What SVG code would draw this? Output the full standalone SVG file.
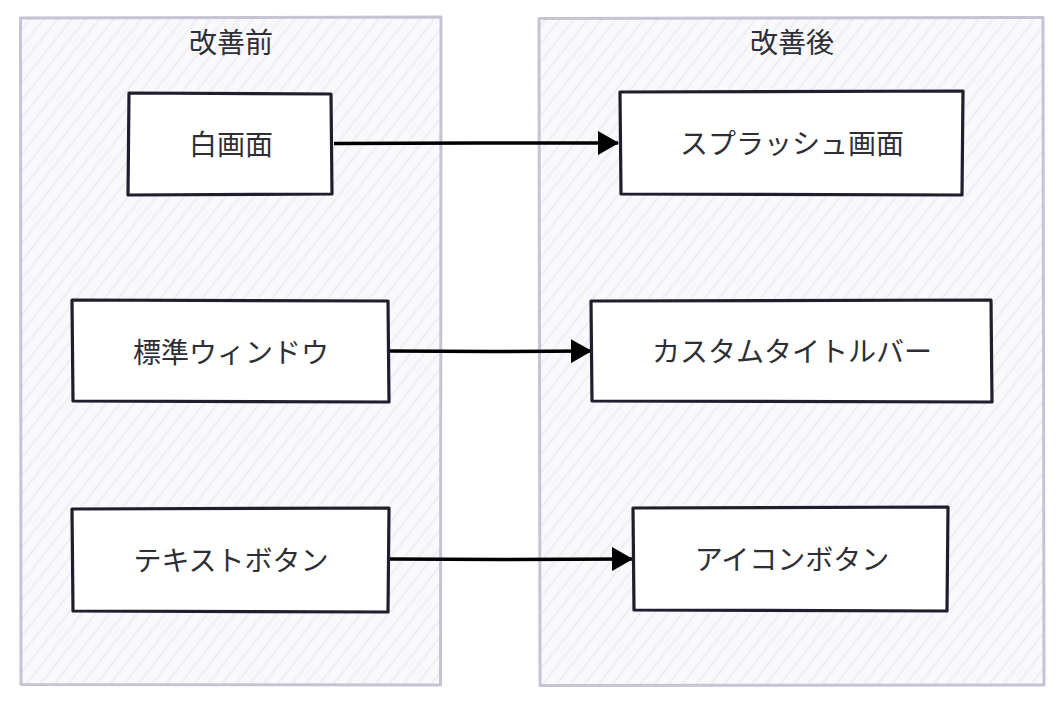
<svg xmlns="http://www.w3.org/2000/svg" width="1063" height="704" viewBox="0 0 1063 704">
<defs>
<pattern id="hatch" width="11" height="11" patternUnits="userSpaceOnUse" patternTransform="rotate(38)">
<rect width="11" height="11" fill="#f9f9fb"/>
<line x1="2" y1="0" x2="2" y2="11" stroke="#ececf1" stroke-width="1.6"/>
</pattern>
<marker id="arrow" viewBox="0 0 21 24" refX="20" refY="12" markerWidth="21" markerHeight="24" markerUnits="userSpaceOnUse" orient="auto">
<path d="M0,0 L21,12 L0,24 Z" fill="#000"/>
</marker>
</defs>
<style>
.cluster{fill:url(#hatch);stroke:#c6c4d4;stroke-width:3;stroke-linejoin:round}
.node{fill:#ffffff;stroke:#1e1e2c;stroke-width:3.2;stroke-linejoin:round}
.edge{fill:none;stroke:#000;stroke-width:3.5;marker-end:url(#arrow)}
text{font-family:"Noto Sans CJK JP","Noto Sans",sans-serif;font-size:28px;fill:#2e2e36;text-anchor:middle;dominant-baseline:central}
</style>
<rect width="1063" height="704" fill="#ffffff"/>
<g id="cluster-before">
<path class="cluster" d="M20.5,18 L441,17 L440.5,685 L21,684.5 Z"/>
<text x="231" y="41">改善前</text>
</g>
<g id="cluster-after">
<path class="cluster" d="M539,18.5 L1043,17.5 L1044,685 L540,685.5 Z"/>
<text x="792" y="41">改善後</text>
</g>
<g id="connectors">
<path class="edge" d="M334,143.5 L480,143 L618,143"/>
<path class="edge" d="M390,351 L490,351.5 L591,351"/>
<path class="edge" d="M390,559 L500,559.5 L632,559"/>
</g>
<g id="node-white">
<path class="node" d="M129,93 L331,94 L332,194 L128,195 Z"/>
<text x="231" y="143">白画面</text>
</g>
<g id="node-standard">
<path class="node" d="M72,300 L388,301 L389,402 L73,401 Z"/>
<text x="231" y="351">標準ウィンドウ</text>
</g>
<g id="node-textbutton">
<path class="node" d="M72,509 L389,508 L388,612 L73,611 Z"/>
<text x="231" y="559">テキストボタン</text>
</g>
<g id="node-splash">
<path class="node" d="M620,92 L963,91 L962,195 L621,194 Z"/>
<text x="792" y="142">スプラッシュ画面</text>
</g>
<g id="node-titlebar">
<path class="node" d="M591,301 L991,300 L992,402 L592,401 Z"/>
<text x="792" y="350">カスタムタイトルバー</text>
</g>
<g id="node-iconbutton">
<path class="node" d="M633,508 L948,507 L947,611 L634,610 Z"/>
<text x="792" y="558">アイコンボタン</text>
</g>
</svg>
